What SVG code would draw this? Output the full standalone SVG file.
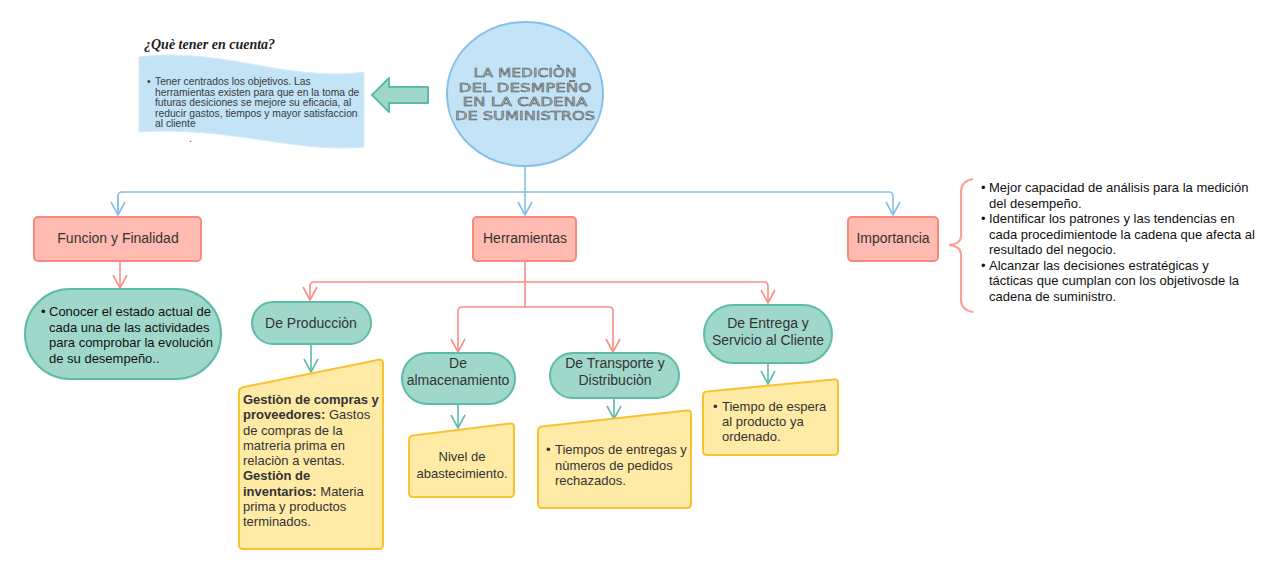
<svg xmlns="http://www.w3.org/2000/svg" width="1280" height="576" viewBox="0 0 1280 576">
<style>
.t{font-family:"Liberation Sans",Arial,sans-serif;fill:#333}
.s14{font-size:14px}
.s13{font-size:13px}
.red{fill:#ffbbb1;stroke:#f8897c;stroke-width:2}
.grn{fill:#9fd8cb;stroke:#5dbca7;stroke-width:2}
.yel{fill:#ffeaa6;stroke:#fbc133;stroke-width:2;stroke-linejoin:round}
.cb{fill:none;stroke:#86bfe9;stroke-width:1.6}
.cr{fill:none;stroke:#f98f82;stroke-width:1.6}
.cg{fill:none;stroke:#5dbca7;stroke-width:1.6}
.big{font-family:"DejaVu Sans","Liberation Sans",sans-serif;font-size:13px;fill:#b4bec3;stroke:#505050;stroke-width:0.5}
</style>
<defs>
<marker id="ab" viewBox="-14 -8 16 16" markerWidth="16" markerHeight="16" refX="0" refY="0" orient="auto" markerUnits="userSpaceOnUse"><path d="M-13,-7 L0,0 L-13,7" fill="none" stroke="#86bfe9" stroke-width="1.6"/></marker>
<marker id="ar" viewBox="-14 -8 16 16" markerWidth="16" markerHeight="16" refX="0" refY="0" orient="auto" markerUnits="userSpaceOnUse"><path d="M-13,-7 L0,0 L-13,7" fill="none" stroke="#f98f82" stroke-width="1.6"/></marker>
<marker id="ag" viewBox="-14 -8 16 16" markerWidth="16" markerHeight="16" refX="0" refY="0" orient="auto" markerUnits="userSpaceOnUse"><path d="M-13,-7 L0,0 L-13,7" fill="none" stroke="#5dbca7" stroke-width="1.6"/></marker>
</defs>

<g id="connectors">
<path class="cb" d="M525,167 V192"/>
<path class="cb" d="M118,215 V196 Q118,192 122,192 H889 Q893,192 893,196 V215" marker-end="url(#ab)"/>
<path class="cb" d="M118,196 V215" marker-end="url(#ab)"/>
<path class="cb" d="M525,192 V215" marker-end="url(#ab)"/>
<path class="cr" d="M120,261 V288" marker-end="url(#ar)"/>
<path class="cr" d="M525,261 V307"/>
<path class="cr" d="M310,286 Q310,282 314,282 H764 Q768,282 768,286 V303" marker-end="url(#ar)"/>
<path class="cr" d="M310,286 V300" marker-end="url(#ar)"/>
<path class="cr" d="M462,307 H609 Q613,307 613,311 V352" marker-end="url(#ar)"/>
<path class="cr" d="M462,307 Q458,307 458,311 V352" marker-end="url(#ar)"/>
<path class="cg" d="M311,344 V372" marker-end="url(#ag)"/>
<path class="cg" d="M458,404 V428" marker-end="url(#ag)"/>
<path class="cg" d="M614,398 V419" marker-end="url(#ag)"/>
<path class="cg" d="M768,363 V384" marker-end="url(#ag)"/>
</g>

<g id="note">
<text x="144" y="49" style="font-family:'Liberation Serif','Times New Roman',serif;font-size:14px;font-weight:bold;font-style:italic;fill:#222">¿Què tener en cuenta?</text>
<path d="M139,57 C175,52 215,57 262,66 C305,74 340,76 364,72 V147 C334,150 302,146 262,140 C222,134 182,129 139,132 Z" fill="#c3e3f6" stroke="#d6ecf8" stroke-width="1"/>
<g class="t" style="font-size:10.3px;fill:#3a3a3a">
<text x="147" y="85">•</text>
<text x="155" y="85">Tener centrados los objetivos. Las</text>
<text x="155" y="95.5">herramientas existen para que en la toma de</text>
<text x="155" y="106">futuras desiciones se mejore su eficacia, al</text>
<text x="155" y="116.5">reducir gastos, tiempos y mayor satisfaccion</text>
<text x="155" y="127">al cliente</text>
<text x="189" y="142">.</text>
</g>
</g>

<g id="arrow-left">
<polygon points="372,95 389,78 389,87 428,87 428,103 389,103 389,112" fill="#9fd8cb" stroke="#5dbca7" stroke-width="2" stroke-linejoin="round"/>
</g>

<g id="main">
<ellipse cx="525" cy="94" rx="78" ry="72" fill="#c3e4f7" stroke="#86bfe9" stroke-width="2"/>
<text class="big" x="525" y="77" text-anchor="middle" textLength="103" lengthAdjust="spacingAndGlyphs">LA MEDICIÒN</text>
<text class="big" x="525" y="91.5" text-anchor="middle" textLength="133" lengthAdjust="spacingAndGlyphs">DEL DESMPEÑO</text>
<text class="big" x="525" y="105.5" text-anchor="middle" textLength="125" lengthAdjust="spacingAndGlyphs">EN LA CADENA</text>
<text class="big" x="525" y="119.5" text-anchor="middle" textLength="140" lengthAdjust="spacingAndGlyphs">DE SUMINISTROS</text>
</g>

<g id="funcion">
<rect class="red" x="34" y="217" width="167" height="44" rx="4"/>
<text class="t s14" x="118" y="243" text-anchor="middle">Funcion y Finalidad</text>
</g>
<g id="herramientas">
<rect class="red" x="473" y="217" width="103" height="44" rx="4"/>
<text class="t s14" x="525" y="243" text-anchor="middle">Herramientas</text>
</g>
<g id="importancia">
<rect class="red" x="848" y="217" width="90" height="44" rx="4"/>
<text class="t s14" x="893" y="243" text-anchor="middle">Importancia</text>
</g>

<g id="importancia-list">
<path d="M973,179 Q961,181 961,192 V236 Q961,244 949,245 Q961,246 961,255 V300 Q961,310 973,312" fill="none" stroke="#f9a194" stroke-width="2"/>
<g class="t s13" style="fill:#111">
<text x="981" y="192">•</text><text x="989" y="192">Mejor capacidad de análisis para la medición</text>
<text x="989" y="207.5">del desempeño.</text>
<text x="981" y="223">•</text><text x="989" y="223">Identificar los patrones y las tendencias en</text>
<text x="989" y="238.5">cada procedimientode la cadena que afecta al</text>
<text x="989" y="254">resultado del negocio.</text>
<text x="981" y="269.5">•</text><text x="989" y="269.5">Alcanzar las decisiones estratégicas y</text>
<text x="989" y="285">tácticas que cumplan con los objetivosde la</text>
<text x="989" y="300.5">cadena de suministro.</text>
</g>
</g>

<g id="conocer">
<rect class="grn" x="25" y="289" width="196" height="90" rx="45"/>
<g class="t s13" style="fill:#111">
<text x="41" y="316">•</text><text x="49" y="316">Conocer el estado actual de</text>
<text x="49" y="331.5">cada una de las actividades</text>
<text x="49" y="347">para comprobar la evolución</text>
<text x="49" y="362.5">de su desempeño..</text>
</g>
</g>

<g id="produccion">
<rect class="grn" x="252" y="302" width="119" height="42" rx="21"/>
<text class="t s14" x="311" y="328" text-anchor="middle">De Producciòn</text>
</g>
<g id="produccion-detalle">
<path class="yel" d="M243,387.2 L379,359.8 Q383,359 383,363 V545 Q383,549 379,549 H243 Q239,549 239,545 V392 Q239,388 243,387.2 Z"/>
<g class="t s13">
<text x="243" y="404" font-weight="bold">Gestiòn de compras y</text>
<text x="243" y="419.3"><tspan font-weight="bold">proveedores:</tspan> Gastos</text>
<text x="243" y="434.5">de compras de la</text>
<text x="243" y="449.8">matreria prima en</text>
<text x="243" y="465">relaciòn a ventas.</text>
<text x="243" y="480.3" font-weight="bold">Gestiòn de</text>
<text x="243" y="495.5"><tspan font-weight="bold">inventarios:</tspan> Materia</text>
<text x="243" y="510.8">prima y productos</text>
<text x="243" y="526">terminados.</text>
</g>
</g>

<g id="almacenamiento">
<rect class="grn" x="402" y="353" width="113" height="51" rx="25.5"/>
<text class="t s14" x="458" y="368" text-anchor="middle">De</text>
<text class="t s14" x="458" y="385" text-anchor="middle">almacenamiento</text>
</g>
<g id="almacenamiento-detalle">
<path class="yel" d="M413,435.5 L510,423.5 Q514,423 514,427 V493 Q514,497 510,497 H413 Q409,497 409,493 V440 Q409,436 413,435.5 Z"/>
<text class="t s13" x="462" y="461" text-anchor="middle">Nivel de</text>
<text class="t s13" x="462" y="478" text-anchor="middle">abastecimiento.</text>
</g>

<g id="transporte">
<rect class="grn" x="550" y="353" width="129" height="45" rx="22.5"/>
<text class="t s14" x="615" y="368" text-anchor="middle">De Transporte y</text>
<text class="t s14" x="615" y="385" text-anchor="middle">Distribuciòn</text>
</g>
<g id="transporte-detalle">
<path class="yel" d="M542,426.5 L687,410.5 Q691,410 691,414 V504 Q691,508 687,508 H542 Q538,508 538,504 V431 Q538,427 542,426.5 Z"/>
<g class="t s13">
<text x="546" y="454">•</text><text x="555" y="454">Tiempos de entregas y</text>
<text x="555" y="470">nùmeros de pedidos</text>
<text x="555" y="485">rechazados.</text>
</g>
</g>

<g id="entrega">
<rect class="grn" x="704" y="305" width="128" height="58" rx="29"/>
<text class="t s14" x="768" y="328" text-anchor="middle">De Entrega y</text>
<text class="t s14" x="768" y="345" text-anchor="middle">Servicio al Cliente</text>
</g>
<g id="entrega-detalle">
<path class="yel" d="M707,391.6 L834,379.4 Q838,379 838,383 V451 Q838,455 834,455 H707 Q703,455 703,451 V396 Q703,392 707,391.6 Z"/>
<g class="t s13">
<text x="713" y="411">•</text><text x="722" y="411">Tiempo de espera</text>
<text x="722" y="426">al producto ya</text>
<text x="722" y="441">ordenado.</text>
</g>
</g>
</svg>
